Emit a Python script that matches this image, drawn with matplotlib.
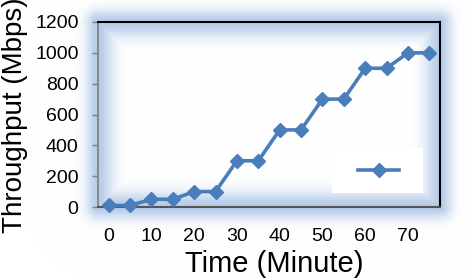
import numpy as np
import matplotlib
matplotlib.use("Agg")
import matplotlib.pyplot as plt
from matplotlib.lines import Line2D

# ---- data ----
time_min = [0, 5, 10, 15, 20, 25, 30, 35, 40, 45, 50, 55, 60, 65, 70, 75]
throughput = [10, 10, 50, 50, 100, 100, 300, 300, 500, 500, 700, 700, 900, 900, 1000, 1000]
x_ticks = [0, 10, 20, 30, 40, 50, 60, 70]
y_ticks = [0, 200, 400, 600, 800, 1000, 1200]

plt.rcParams['font.family'] = ['Liberation Sans', 'DejaVu Sans']

W, H = 469, 279
fig = plt.figure(figsize=(W / 100, H / 100), dpi=100)

# frame rectangle in pixels (from top-left)
L, R, T, B = 98, 440, 22, 207

# glow background
bg = fig.add_axes([0, 0, 1, 1], zorder=-2)
bg.set_axis_off()
xs = np.arange(W) + 0.5
ys = np.arange(H) + 0.5
XX, YY = np.meshgrid(xs, ys)
dx = np.maximum(np.maximum(L - XX, XX - R), 0)
dy = np.maximum(np.maximum(T - YY, YY - B), 0)
d_out = np.sqrt(dx ** 2 + dy ** 2)
inside = (XX >= L) & (XX <= R) & (YY >= T) & (YY <= B)
d_in = np.minimum(np.minimum(XX - L, R - XX), np.minimum(YY - T, B - YY))
a = np.where(inside, np.exp(-(d_in / 15.0) ** 2), np.exp(-(d_out / 12.0) ** 2))
a = a * 0.64
blue = np.array([0.55, 0.69, 0.86])
img = (1 - a[..., None]) * np.ones(3) + a[..., None] * blue
# white legend box
lb = (XX >= 332) & (XX <= 423) & (YY >= 148) & (YY <= 193)
img[lb] = 1.0
bg.imshow(img, extent=[0, W, H, 0], aspect='auto', interpolation='bilinear')
bg.set_xlim(0, W)
bg.set_ylim(H, 0)

ax = fig.add_axes([L / W, (H - B) / H, (R - L) / W, (B - T) / H])
ax.patch.set_alpha(0)

color = '#4A7EBB'
ax.plot(time_min, throughput, color=color, lw=2.6, marker='D', ms=7.5,
        markeredgecolor=color, clip_on=False, zorder=3)

ax.set_xlim(-2.5, 77.5)
ax.set_ylim(0, 1200)
ax.set_xticks(x_ticks)
ax.set_yticks(y_ticks)
ax.tick_params(axis='y', direction='out', length=4, width=1, color='#808080',
               labelsize=14, pad=10)
ax.tick_params(axis='x', length=0, labelsize=14, pad=15)

for s in ['top', 'right']:
    ax.spines[s].set_color('black')
    ax.spines[s].set_linewidth(1.5)
ax.spines['left'].set_color('#808080')
ax.spines['left'].set_linewidth(1.2)
ax.spines['bottom'].set_color('#555555')
ax.spines['bottom'].set_linewidth(1.5)

ax.set_xlabel('Time (Minute)', fontsize=21, labelpad=3)
ax.xaxis.set_label_coords(0.516, -0.23)
ax.xaxis.label.set_va('top')
ax.set_ylabel('Throughput (Mbps)', fontsize=20)
ax.yaxis.set_label_coords(-0.205, 0.495)

# legend glyph (no text)
leg = ax.legend([Line2D([], [], color=color, lw=2.6, marker='D', ms=7.5)], [''],
                loc='center', bbox_to_anchor=((378.5 - L) / (R - L), (B - 171) / (B - T)),
                frameon=False, handlelength=3.0, handletextpad=0, borderpad=0)

fig.savefig('out.png', dpi=100)
